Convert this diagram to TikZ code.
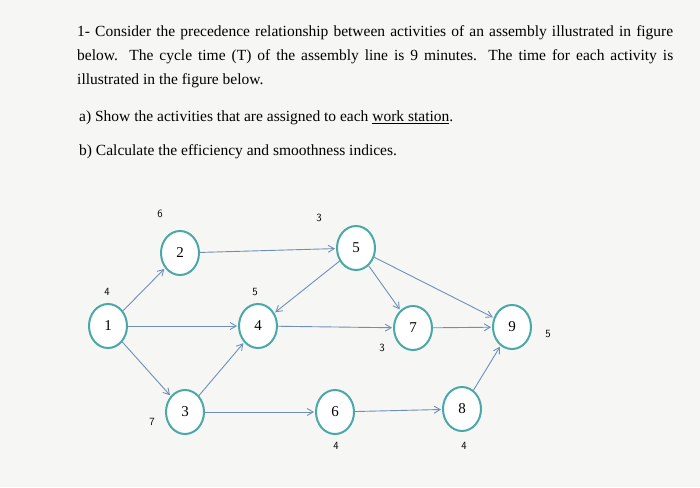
\documentclass[tikz,border=0pt]{standalone}
\usepackage{fontspec}
\setmainfont{Liberation Serif}
\usetikzlibrary{arrows.meta,shapes.geometric}
\definecolor{teal1}{HTML}{4AA8A8}
\definecolor{arr}{HTML}{6F8FB8}
\definecolor{bg}{HTML}{F6F6F4}
\begin{document}
\begin{tikzpicture}[x=1pt,y=-1pt,
  act/.style={draw=teal1,line width=2pt,ellipse,minimum width=38pt,minimum height=44pt,inner sep=0pt,font=\fontsize{15}{15}\selectfont,fill=white},
  con/.style={draw=arr,line width=0.9pt,-{Straight Barb[length=6pt,width=7pt]},shorten >=1pt},
  wt/.style={font=\fontsize{11}{11}\selectfont\sffamily}]
\fill[bg] (0,0) rectangle (700,487);
\useasboundingbox (0,0) rectangle (700,487);
\node[anchor=north west,inner sep=0pt,align=justify,text width=596pt,font=\fontsize{15.5}{24}\selectfont] (txt) at (77,25)
 {1- Consider the precedence relationship between activities of an assembly illustrated in figure\linebreak below. The cycle time (T) of the assembly line is 9 minutes. The time for each activity is\linebreak illustrated in the figure below.};
\node[anchor=west,inner sep=0pt,font=\fontsize{15.5}{24}\selectfont] (qa) at (79,118) {a) Show the activities that are assigned to each \underline{work station}.};
\node[anchor=west,inner sep=0pt,font=\fontsize{15.5}{24}\selectfont] (qb) at (79,152) {b) Calculate the efficiency and smoothness indices.};
\node[act] (n1) at (108,326) {1};
\node[act] (n2) at (180,253) {2};
\node[act] (n5) at (356,248) {5};
\node[act] (n4) at (258,326) {4};
\node[act] (n7) at (413,328) {7};
\node[act] (n9) at (512,327) {9};
\node[act] (n3) at (185,412) {3};
\node[act] (n6) at (335,412) {6};
\node[act] (n8) at (462,409) {8};
\draw[con] (n1) -- (n2);
\draw[con] (n1) -- (n4);
\draw[con] (n1) -- (n3);
\draw[con] (n2) -- (n5);
\draw[con] (n5) -- (n4);
\draw[con] (n5) -- (n7);
\draw[con] (n5) -- (n9);
\draw[con] (n4) -- (n7);
\draw[con] (n7) -- (n9);
\draw[con] (n3) -- (n4);
\draw[con] (n3) -- (n6);
\draw[con] (n6) -- (n8);
\draw[con] (n8) -- (n9);
\node[wt] (w2) at (160,214) {6};
\node[wt] (w5) at (319,218) {3};
\node[wt] (w1) at (107,292) {4};
\node[wt] (w4) at (255,292) {5};
\node[wt] (w7) at (382,348) {3};
\node[wt] (w9) at (548,334) {5};
\node[wt] (w3) at (152,422) {7};
\node[wt] (w6) at (336,446) {4};
\node[wt] (w8) at (464,446) {4};
\end{tikzpicture}
\end{document}
